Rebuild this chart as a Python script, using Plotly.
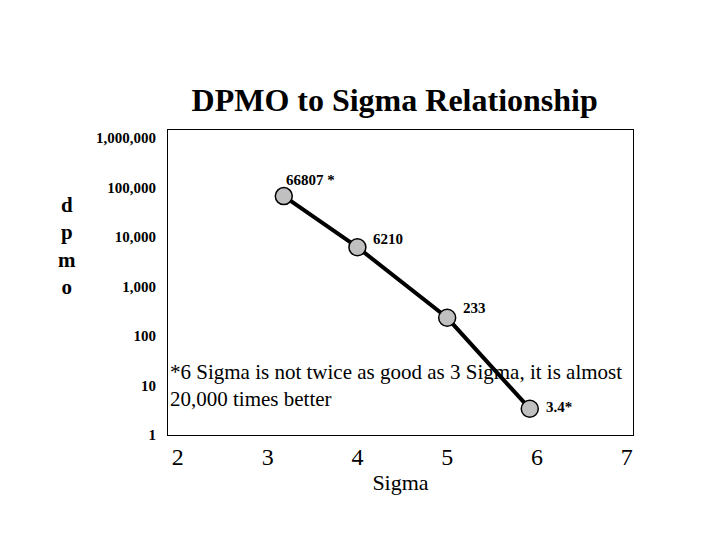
import math
import plotly.graph_objects as go

sigma = [3.18, 4.0, 5.0, 5.92]
dpmo = [66807, 6210, 233, 3.4]
point_labels = ["66807 *", "6210", "233", "3.4*"]
y_ticks = [1, 10, 100, 1000, 10000, 100000, 1000000]
y_ticktext = ["1", "10", "100", "1,000", "10,000", "100,000", "1,000,000"]
x_ticks = [2, 3, 4, 5, 6, 7]

serif = "Liberation Serif"

fig = go.Figure()
fig.add_trace(go.Scatter(
    x=sigma, y=dpmo, mode="lines+markers",
    line=dict(color="black", width=4),
    marker=dict(size=17, color="#c0c0c0", line=dict(color="black", width=1.5)),
    showlegend=False))

# point labels (log axis: annotation y in log10 units)
offsets = [(0, 16), (14, 8), (14, 10), (14, 2)]
for xv, yv, t, (ax, ay) in zip(sigma, dpmo, point_labels, offsets):
    fig.add_annotation(x=xv, y=math.log10(yv), text="<b>" + t + "</b>", showarrow=False,
                       xshift=ax, yshift=ay, xanchor="left",
                       font=dict(family=serif, size=15, color="black"))

fig.add_annotation(x=0, xref="paper", y=1.0, yref="y", yanchor="middle",
                   text="*6 Sigma is not twice as good as 3 Sigma, it is almost<br>20,000 times better",
                   showarrow=False, xanchor="left", align="left", xshift=0, yshift=0,
                   font=dict(family=serif, size=21, color="black"))

fig.add_annotation(x=-0.24, xref="paper", y=0.62, yref="paper", text="<b>d<br>p<br>m<br>o</b>",
                   showarrow=False, font=dict(family=serif, size=21, color="black"))

fig.update_layout(
    width=720, height=540,
    margin=dict(l=160, r=95, t=122, b=113),
    paper_bgcolor="white", plot_bgcolor="white",
    title=dict(text="<b>DPMO to Sigma Relationship</b>", x=0.537, y=0.85, xanchor="center",
               font=dict(family=serif, size=32, color="black")),
    xaxis=dict(range=[1.89, 7.07], tickvals=x_ticks, showgrid=False, zeroline=False,
               showline=True, linecolor="black", mirror=True, linewidth=1, automargin=False,
               tickfont=dict(family=serif, size=24, color="black"), ticks="",
               title=dict(text="Sigma", font=dict(family=serif, size=22, color="black"), standoff=5)),
    yaxis=dict(type="log", range=[0, 6.16], tickvals=y_ticks, ticktext=y_ticktext,
               showgrid=False, zeroline=False, showline=True, linecolor="black",
               mirror=True, linewidth=1, ticks="", ticklabelstandoff=8, automargin=False,
               tickfont=dict(family=serif, size=15, color="black", weight="bold")),
)

fig.write_html("out.html")
